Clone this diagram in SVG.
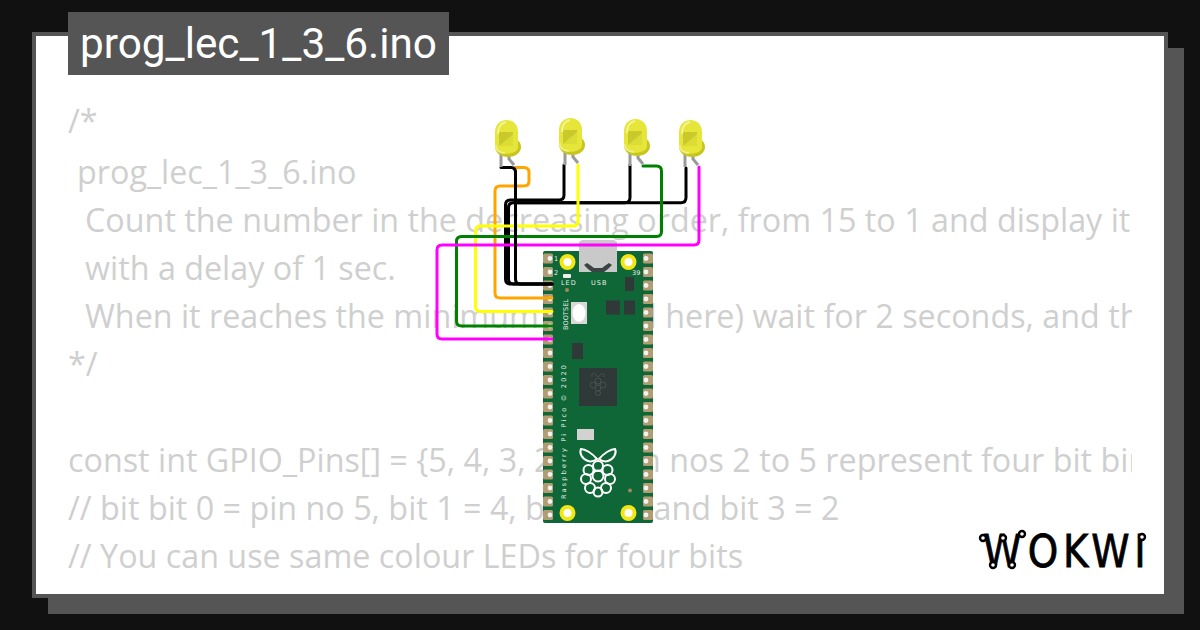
<svg xmlns="http://www.w3.org/2000/svg" width="1200" height="630" viewBox="0 0 1200 630">
<style>
.code{font-family:"Open Sans","Noto Sans",sans-serif;font-size:32.300px;fill:#cfcfcf}
.w{fill:none;stroke-width:3;stroke-linecap:round;stroke-linejoin:round}
.silk{font-family:"DejaVu Sans",sans-serif;fill:#e8f0e8;font-size:6.500px}
.chip{fill:#2f3a38}
</style>
<defs>
<clipPath id="codeclip"><rect x="60" y="90" width="1072" height="500"/></clipPath>
<g id="led">
<path d="M-6 30V47" stroke="#9a9a9a" stroke-width="3" fill="none"/>
<path d="M2 30V39L7 45" stroke="#9a9a9a" stroke-width="3" fill="none"/>
<path d="M-12 26C-12 22 -4 18 4 18C10 18 14 22 14 27C14 33 8 37 1 37C-6 37 -12 33 -12 26Z" fill="#c6c61e"/>
<path d="M-12 12C-12 -4 11 -4 11 12V27C11 36 -12 36 -12 27Z" fill="#e6e63a"/>
<path d="M-8 12H6V26H-8Z" fill="#c9c92c"/>
<path d="M-8 26L6 14V26Z" fill="#dcdc36"/>
<path d="M-9 14C-9 5 -5 3 -1 2" stroke="#f4f49c" stroke-width="2" fill="none"/>
<path d="M-11 25V28C-8 33 -4 33 -2 33" stroke="#f0f090" stroke-width="1.500" fill="none"/>
</g>
<g id="pinL"><rect x="0" y="-5" width="10" height="10" rx="1.500" fill="#b19d74"/><circle cx="7" cy="0" r="2.400" fill="#f2f2f2"/></g>
<g id="pinR"><rect x="0" y="-5" width="10" height="10" rx="1.500" fill="#b19d74"/><circle cx="3" cy="0" r="2.400" fill="#f2f2f2"/></g>
</defs>

<rect width="1200" height="630" fill="#111"/>
<rect x="48" y="48" width="1136" height="566" fill="#555"/>
<rect x="34" y="34" width="1132" height="562" fill="#fff" stroke="#555" stroke-width="4"/>

<g id="code" clip-path="url(#codeclip)" class="code">
<text x="68" y="133">/*</text>
<text x="77" y="183.500">prog_lec_1_3_6.ino</text>
<text x="85" y="231.500">Count the number in the decreasing order, from 15 to 1 and display it</text>
<text x="85" y="279.500">with a delay of 1 sec.</text>
<text x="85" y="327.500">When it reaches the minimum (1 used here) wait for 2 seconds, and then</text>
<text x="68" y="375.500">*/</text>
<text x="68" y="471.500">const int GPIO_Pins[] = {5, 4, 3, 2}; // Pin nos 2 to 5 represent four bit binary</text>
<text x="68" y="519.500">// bit bit 0 = pin no 5, bit 1 = 4, bit 2 = 3 and bit 3 = 2</text>
<text x="68" y="567.500">// You can use same colour LEDs for four bits</text>
</g>

<g id="title">
<rect x="68" y="12" width="381" height="63" fill="#555"/>
<text x="80" y="58" font-family="Roboto,sans-serif" font-size="42.300" fill="#fff">prog_lec_1_3_6.ino</text>
</g>

<g id="pico">
<rect x="543" y="251" width="110" height="272" rx="2" fill="#0f6636"/>
<g id="pins-left">
<use href="#pinL" x="543" y="258.500"/><use href="#pinL" x="543" y="272"/><use href="#pinL" x="543" y="285.500"/><use href="#pinL" x="543" y="299"/><use href="#pinL" x="543" y="312.500"/><use href="#pinL" x="543" y="326"/><use href="#pinL" x="543" y="339.500"/><use href="#pinL" x="543" y="353"/><use href="#pinL" x="543" y="366.500"/><use href="#pinL" x="543" y="380"/><use href="#pinL" x="543" y="393.500"/><use href="#pinL" x="543" y="407"/><use href="#pinL" x="543" y="420.500"/><use href="#pinL" x="543" y="434"/><use href="#pinL" x="543" y="447.500"/><use href="#pinL" x="543" y="461"/><use href="#pinL" x="543" y="474.500"/><use href="#pinL" x="543" y="488"/><use href="#pinL" x="543" y="501.500"/><use href="#pinL" x="543" y="515"/>
</g>
<g id="pins-right">
<use href="#pinR" x="643" y="258.500"/><use href="#pinR" x="643" y="272"/><use href="#pinR" x="643" y="285.500"/><use href="#pinR" x="643" y="299"/><use href="#pinR" x="643" y="312.500"/><use href="#pinR" x="643" y="326"/><use href="#pinR" x="643" y="339.500"/><use href="#pinR" x="643" y="353"/><use href="#pinR" x="643" y="366.500"/><use href="#pinR" x="643" y="380"/><use href="#pinR" x="643" y="393.500"/><use href="#pinR" x="643" y="407"/><use href="#pinR" x="643" y="420.500"/><use href="#pinR" x="643" y="434"/><use href="#pinR" x="643" y="447.500"/><use href="#pinR" x="643" y="461"/><use href="#pinR" x="643" y="474.500"/><use href="#pinR" x="643" y="488"/><use href="#pinR" x="643" y="501.500"/><use href="#pinR" x="643" y="515"/>
</g>
<g fill="#fff" stroke="#f2e614" stroke-width="4">
<circle cx="567.500" cy="262" r="6"/><circle cx="628.500" cy="262" r="6"/><circle cx="567.500" cy="513" r="6"/><circle cx="628.500" cy="513" r="6"/>
</g>
<path d="M579 242L582 240H614L617 242V272H579Z" fill="#c9c9c9"/>
<path d="M584 265L587 263L590 265L594 268H602L606 265L609 263L612 265L608 269L604 272H592L588 269Z" fill="#3b4442"/>
<rect x="563" y="274" width="8" height="4" rx="1" fill="#eee"/>
<circle cx="567" cy="290" r="2" fill="#a5885a"/>
<circle cx="630" cy="490.500" r="2" fill="#a5885a"/>
<rect x="625" y="277" width="9" height="14" class="chip"/>
<rect x="606" y="300.500" width="14" height="14" class="chip"/>
<rect x="624" y="300.500" width="11" height="14" class="chip"/>
<rect x="571" y="302" width="16" height="22" fill="#d8d8d8"/>
<ellipse cx="579" cy="313" rx="6.500" ry="9" fill="#fff"/>
<rect x="572" y="343" width="11" height="16" class="chip"/>
<rect x="579" y="368" width="38" height="38" class="chip"/>
<g fill="none" stroke="#47524f" stroke-width="1">
<path d="M598 377C594 372 591 373 592 377M598 377C602 372 605 373 604 377"/>
<circle cx="598" cy="381" r="3"/><circle cx="593" cy="385" r="3"/><circle cx="603" cy="385" r="3"/><circle cx="598" cy="388" r="3"/><circle cx="598" cy="393" r="2.500"/>
</g>
<rect x="577" y="429" width="17" height="11" fill="#d2d2d2"/>
<g id="pi-logo" fill="none" stroke="#fff" stroke-width="2">
<path d="M597 459C592 453 585 449 581 449C579 453 582 459 588 461C591 462 594 461 597 459Z"/>
<path d="M599 459C604 453 611 449 615 449C617 453 614 459 608 461C605 462 602 461 599 459Z"/>
<circle cx="598" cy="466" r="5"/><circle cx="588.500" cy="470" r="5"/><circle cx="607.500" cy="470" r="5"/>
<circle cx="598" cy="476" r="5.500"/><circle cx="586" cy="479" r="5"/><circle cx="610" cy="479" r="5"/>
<circle cx="590" cy="488" r="5"/><circle cx="606" cy="488" r="5"/><circle cx="598" cy="492" r="4.500"/>
</g>
<g class="silk">
<text x="554" y="261">1</text>
<text x="554" y="274.500">2</text>
<text x="561" y="284.500" letter-spacing="1">LED</text>
<text x="591" y="284.500" letter-spacing="1">USB</text>
<text x="632" y="274.500">39</text>
<text transform="translate(568 330) rotate(-90)" textLength="31">BOOTSEL</text>
<text transform="translate(566 499) rotate(-90)" textLength="134">Raspberry Pi Pico © 2020</text>
</g>
</g>

<g id="connectors">
<path class="w" stroke="#000" d="M564 165V195Q564 200 559 200H510.500Q505.500 200 505.500 205V279Q505.500 284 510.500 284H552"/>
<path class="w" stroke="#000" d="M630 165V197.500Q630 202.700 625 202.700H513.500Q508.500 202.700 508.500 207.700V279Q508.500 284 513.500 284H552"/>
<path class="w" stroke="#000" d="M686 168V197.500Q686 202.700 681 202.700H518"/>
<path class="w" stroke="#ffa500" d="M515 167.500H524Q529 167.500 529 172.500V181Q529 186 524 186H500Q495 186 495 191V293Q495 298 500 298H552"/>
<path class="w" stroke="#ffff00" d="M578 165V221Q578 226 573 226H480.500Q475.500 226 475.500 231V306.500Q475.500 311.500 480.500 311.500H552"/>
<path class="w" stroke="#008000" d="M643 166H656.500Q661.500 166 661.500 171V231.500Q661.500 236.500 656.500 236.500H461.500Q456.500 236.500 456.500 241.500V321Q456.500 326 461.500 326H552"/>
<path class="w" stroke="#ff00ff" d="M699 167V240Q699 245 694 245H442Q437 245 437 250V334Q437 339 442 339H552"/>
<path class="w" stroke="#000" d="M501 167.500H511Q515.500 167.500 515.500 172.500V279Q515.500 284 520.500 284H552"/>
</g>

<g id="led1"><use href="#led" x="507" y="120"/></g>
<g id="led2"><use href="#led" x="571" y="118"/></g>
<g id="led3"><use href="#led" x="636" y="119"/></g>
<g id="led4"><use href="#led" x="691" y="120"/></g>

<g id="wokwi-logo">
<text transform="translate(0 567) scale(.88 1)" x="1117 1168 1208 1240 1289" y="0" font-family="'DejaVu Sans',sans-serif" font-size="44" fill="#000" stroke="#000" stroke-width="0.800">WOKWI</text>
<g fill="#fff" stroke="#000" stroke-width="2.400">
<circle cx="983" cy="538" r="3"/><circle cx="1003" cy="538" r="3"/><circle cx="1022" cy="534" r="3"/><circle cx="993" cy="565" r="3"/><circle cx="1012" cy="565" r="3"/><circle cx="1142" cy="537" r="3"/>
</g>
</g>
</svg>
